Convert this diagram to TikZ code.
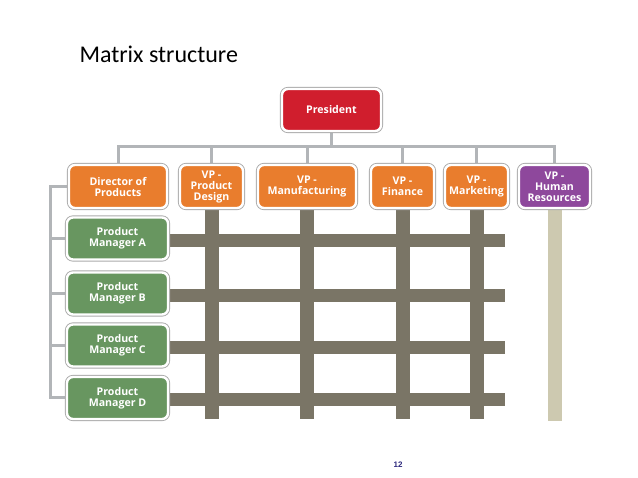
\documentclass[tikz,border=0pt]{standalone}
\usepackage{fontspec}
\setmainfont{Carlito}
\newfontfamily\boxfont{Open Sans}
\newfontfamily\numfont{Liberation Sans}
\usetikzlibrary{calc}
\pgfdeclarelayer{background}
\pgfsetlayers{background,main}
\definecolor{cOrange}{RGB}{233,125,45}
\definecolor{cRed}{RGB}{208,30,45}
\definecolor{cGreen}{RGB}{104,150,96}
\definecolor{cPurple}{RGB}{142,72,156}
\definecolor{cBar}{RGB}{122,117,102}
\definecolor{cBarLight}{RGB}{205,201,176}
\definecolor{cLine}{RGB}{178,181,184}
\definecolor{cShadow}{RGB}{170,170,170}
\definecolor{cNum}{RGB}{45,40,125}
\begin{document}
\begin{tikzpicture}[x=1pt,y=-1pt,
  box/.style={rounded corners=6pt, draw=white, line width=2.4pt, inner sep=0pt, align=center, text=white,
    font=\boxfont\bfseries\fontsize{10.6}{11}\selectfont,
    preaction={draw=cShadow, line width=4.2pt}, minimum height=43pt},
  conn/.style={draw=cLine, line width=3pt},
  bar/.style={draw=cBar, line width=14pt},
]
\useasboundingbox (0,0) rectangle (638,478);
\node[anchor=base west, font=\fontsize{24}{28}\selectfont] (title) at (76,63) {Matrix structure};

\node[box, fill=cRed, minimum width=99pt, minimum height=42pt] (pres) at (331.5,110) {President};
\node[box, fill=cOrange, minimum width=98pt] (dir) at (118,186.5) {Director of\\Products};
\node[box, fill=cOrange, minimum width=63pt] (pd) at (211.5,186.5) {VP -\\Product\\Design};
\node[box, fill=cOrange, minimum width=98pt] (mf) at (307,186.5) {VP -\\Manufacturing};
\node[box, fill=cOrange, minimum width=63pt] (fin) at (402.5,186.5) {VP -\\Finance};
\node[box, fill=cOrange, minimum width=63pt] (mkt) at (476.5,186.5) {VP -\\Marketing};
\node[box, fill=cPurple, minimum width=71pt] (hr) at (554.5,186.5) {VP -\\Human\\Resources};

\node[box, fill=cGreen, minimum width=101pt, minimum height=42pt] (pmA) at (117.5,238.5) {Product\\Manager A};
\node[box, fill=cGreen, minimum width=101pt, minimum height=42pt] (pmB) at (117.5,293.5) {Product\\Manager B};
\node[box, fill=cGreen, minimum width=101pt, minimum height=42pt] (pmC) at (117.5,345.5) {Product\\Manager C};
\node[box, fill=cGreen, minimum width=101pt, minimum height=42pt] (pmD) at (117.5,398) {Product\\Manager D};

\node[font=\numfont\bfseries\fontsize{8}{8}\selectfont, text=cNum] (pg) at (398,465) {12};

\coordinate (bus) at (0,147);
\coordinate (brk) at (50,0);
\coordinate (barbottom) at (0,419);
\coordinate (hrbottom) at (0,421);
\coordinate (barright) at (505,0);

\begin{pgfonlayer}{background}
  \foreach \n in {dir,pd,mf,fin,mkt,hr}
    \draw[conn] (pres.south) -- (pres.south |- bus) -| (\n.north);
  \foreach \n in {pmA,pmB,pmC,pmD}
    \draw[conn] (dir.west) -- (dir.west -| brk) |- (\n.west);
  \foreach \n in {pd,mf,fin,mkt}
    \draw[bar] (\n.south) -- (\n.south |- barbottom);
  \draw[bar, draw=cBarLight] (hr.south) -- (hr.south |- hrbottom);
  \foreach \n in {pmA,pmB,pmC,pmD}
    \draw[bar, line width=13pt] ($(\n.east)+(0,2)$) -- ($(\n.east -| barright)+(0,2)$);
\end{pgfonlayer}
\end{tikzpicture}
\end{document}
